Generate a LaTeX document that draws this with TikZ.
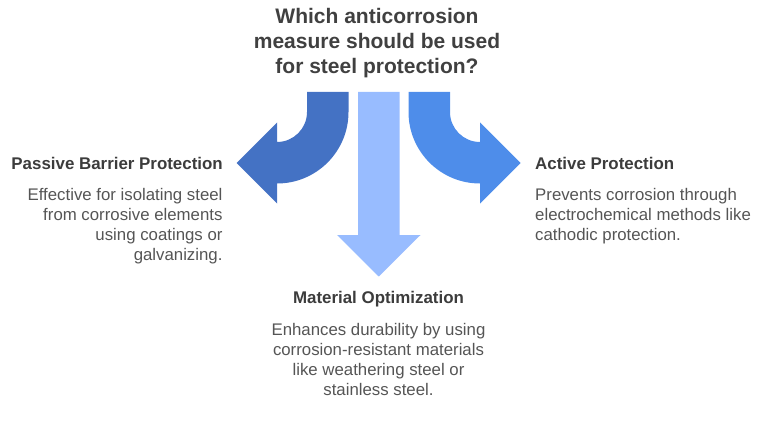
\documentclass[tikz,border=0pt]{standalone}
\usepackage{fontspec}
\setmainfont{Liberation Sans}
\definecolor{cdark}{RGB}{68,114,196}
\definecolor{clight}{RGB}{152,188,255}
\definecolor{cmid}{RGB}{78,141,234}
\definecolor{ttitle}{RGB}{64,64,64}
\definecolor{thead}{RGB}{60,60,60}
\definecolor{tbody}{RGB}{85,85,85}
\tikzset{
  arrowshape/.style={draw=none},
  titletext/.style={inner sep=0pt, text=ttitle, font=\fontsize{21}{25}\selectfont\bfseries, align=center},
  headtext/.style={inner sep=0pt, text=thead, font=\fontsize{16.9}{20}\selectfont\bfseries},
  bodytext/.style={inner sep=0pt, text=tbody, font=\fontsize{16.8}{20}\selectfont},
}
\begin{document}
\begin{tikzpicture}[x=1pt,y=-1pt]
\useasboundingbox (0,0) rectangle (768,441);
% left arrow
\fill[cdark] (307,92) -- (348.5,92) -- (348.5,112) arc[start angle=0, end angle=90, radius=71.5]
  -- (277,203.5) -- (236.5,163) -- (277,122.5) -- (277,142) arc[start angle=90, end angle=0, radius=30] -- cycle;
% right arrow
\fill[cmid] (450,92) -- (408.5,92) -- (408.5,112) arc[start angle=180, end angle=90, radius=71.5]
  -- (480,203.5) -- (520.5,163) -- (480,122.5) -- (480,142) arc[start angle=90, end angle=180, radius=30] -- cycle;
% middle arrow
\fill[clight] (358,92) -- (399.5,92) -- (399.5,235) -- (420.5,235) -- (378.75,276.5) -- (337,235) -- (358,235) -- cycle;
% title
\node[titletext, anchor=north] (title) at (377,7.9) {Which anticorrosion\\measure should be used\\for steel protection?};
% left
\node[headtext, anchor=base east] (lh) at (223,169.5) {Passive Barrier Protection};
\node[bodytext, anchor=north east, align=right] (lb) at (222.7,188.6) {Effective for isolating steel\\from corrosive elements\\using coatings or\\galvanizing.};
% right
\node[headtext, anchor=base west] (rh) at (535,169.5) {Active Protection};
\node[bodytext, anchor=north west, align=left] (rb) at (535,188.6) {Prevents corrosion through\\electrochemical methods like\\cathodic protection.};
% bottom
\node[headtext, anchor=base] (bh) at (378.5,303) {Material Optimization};
\node[bodytext, anchor=north, align=center] (bb) at (378.5,322.9) {Enhances durability by using\\corrosion-resistant materials\\like weathering steel or\\stainless steel.};
\end{tikzpicture}
\end{document}
